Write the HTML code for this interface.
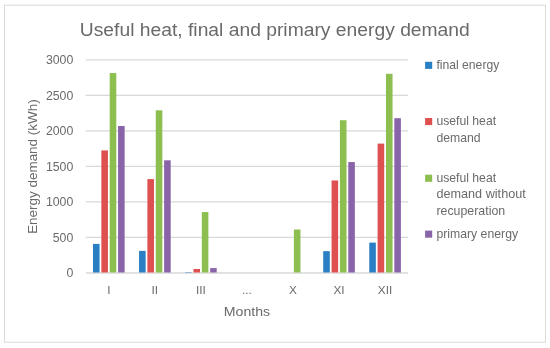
<!DOCTYPE html><html><head><meta charset="utf-8"><style>html,body{margin:0;padding:0;background:#fff;width:550px;height:348px;overflow:hidden}svg{display:block}text{font-family:"Liberation Sans", Arial, sans-serif;fill:#6a6a6a}</style></head><body>
<svg width="550" height="348" viewBox="0 0 550 348">
<rect x="0" y="0" width="550" height="348" fill="#fff"/>
<rect x="4.5" y="5.2" width="541" height="337" fill="#fff" stroke="#d9d9d9" stroke-width="1"/>
<line x1="85.80" y1="59.86" x2="408.10" y2="59.86" stroke="#d9d9d9" stroke-width="1.3"/>
<line x1="85.80" y1="95.37" x2="408.10" y2="95.37" stroke="#d9d9d9" stroke-width="1.3"/>
<line x1="85.80" y1="130.87" x2="408.10" y2="130.87" stroke="#d9d9d9" stroke-width="1.3"/>
<line x1="85.80" y1="166.38" x2="408.10" y2="166.38" stroke="#d9d9d9" stroke-width="1.3"/>
<line x1="85.80" y1="201.89" x2="408.10" y2="201.89" stroke="#d9d9d9" stroke-width="1.3"/>
<line x1="85.80" y1="237.39" x2="408.10" y2="237.39" stroke="#d9d9d9" stroke-width="1.3"/>
<line x1="85.80" y1="273.00" x2="408.10" y2="273.00" stroke="#d9d9d9" stroke-width="1.3"/>
<rect x="93.00" y="243.90" width="6.58" height="28.60" fill="#2a7fc4"/>
<rect x="101.36" y="150.40" width="6.58" height="122.10" fill="#df5050"/>
<rect x="109.71" y="73.05" width="6.58" height="199.45" fill="#8cbf50"/>
<rect x="118.06" y="126.00" width="6.58" height="146.50" fill="#8a64a8"/>
<rect x="139.05" y="250.90" width="6.58" height="21.60" fill="#2a7fc4"/>
<rect x="147.40" y="179.10" width="6.58" height="93.40" fill="#df5050"/>
<rect x="155.75" y="110.30" width="6.58" height="162.20" fill="#8cbf50"/>
<rect x="164.11" y="160.30" width="6.58" height="112.20" fill="#8a64a8"/>
<rect x="185.09" y="272.10" width="6.58" height="0.40" fill="#2a7fc4"/>
<rect x="193.44" y="269.00" width="6.58" height="3.50" fill="#df5050"/>
<rect x="201.80" y="212.07" width="6.58" height="60.43" fill="#8cbf50"/>
<rect x="210.15" y="268.10" width="6.58" height="4.40" fill="#8a64a8"/>
<rect x="293.88" y="229.50" width="6.58" height="43.00" fill="#8cbf50"/>
<rect x="323.22" y="251.15" width="6.58" height="21.35" fill="#2a7fc4"/>
<rect x="331.57" y="180.46" width="6.58" height="92.04" fill="#df5050"/>
<rect x="339.92" y="120.20" width="6.58" height="152.30" fill="#8cbf50"/>
<rect x="348.28" y="162.07" width="6.58" height="110.43" fill="#8a64a8"/>
<rect x="369.26" y="242.60" width="6.58" height="29.90" fill="#2a7fc4"/>
<rect x="377.61" y="143.60" width="6.58" height="128.90" fill="#df5050"/>
<rect x="385.97" y="73.80" width="6.58" height="198.70" fill="#8cbf50"/>
<rect x="394.32" y="118.20" width="6.58" height="154.30" fill="#8a64a8"/>
<text x="73.3" y="277.20" font-size="12.3" text-anchor="end">0</text>
<text x="73.3" y="241.69" font-size="12.3" text-anchor="end">500</text>
<text x="73.3" y="206.19" font-size="12.3" text-anchor="end">1000</text>
<text x="73.3" y="170.68" font-size="12.3" text-anchor="end">1500</text>
<text x="73.3" y="135.17" font-size="12.3" text-anchor="end">2000</text>
<text x="73.3" y="99.67" font-size="12.3" text-anchor="end">2500</text>
<text x="73.3" y="64.16" font-size="12.3" text-anchor="end">3000</text>
<text x="108.82" y="294.4" font-size="11.8" text-anchor="middle">I</text>
<text x="154.86" y="294.4" font-size="11.8" text-anchor="middle">II</text>
<text x="200.91" y="294.4" font-size="11.8" text-anchor="middle">III</text>
<text x="246.95" y="294.4" font-size="11.8" text-anchor="middle">...</text>
<text x="292.99" y="294.4" font-size="11.8" text-anchor="middle">X</text>
<text x="339.04" y="294.4" font-size="11.8" text-anchor="middle">XI</text>
<text x="385.08" y="294.4" font-size="11.8" text-anchor="middle">XII</text>
<text x="79.8" y="36.1" font-size="18.75" textLength="390.0" lengthAdjust="spacingAndGlyphs">Useful heat, final and primary energy demand</text>
<text x="246.95" y="316.3" font-size="13.5" text-anchor="middle" textLength="46.3" lengthAdjust="spacingAndGlyphs">Months</text>
<text transform="translate(37.3,166.6) rotate(-90)" x="0" y="0" font-size="13.5" text-anchor="middle" textLength="134.5" lengthAdjust="spacingAndGlyphs">Energy demand (kWh)</text>
<rect x="425.1" y="61.80" width="7.1" height="7.1" fill="#2a7fc4"/>
<text x="436.4" y="68.90" font-size="11.9" textLength="62.9" lengthAdjust="spacingAndGlyphs">final energy</text>
<rect x="425.1" y="118.00" width="7.1" height="7.1" fill="#df5050"/>
<text x="436.4" y="125.10" font-size="11.9" textLength="59.7" lengthAdjust="spacingAndGlyphs">useful heat</text>
<text x="436.4" y="141.55" font-size="11.9" textLength="44.2" lengthAdjust="spacingAndGlyphs">demand</text>
<rect x="425.1" y="174.70" width="7.1" height="7.1" fill="#8cbf50"/>
<text x="436.4" y="181.80" font-size="11.9" textLength="59.7" lengthAdjust="spacingAndGlyphs">useful heat</text>
<text x="436.4" y="198.25" font-size="11.9" textLength="89.4" lengthAdjust="spacingAndGlyphs">demand without</text>
<text x="436.4" y="214.70" font-size="11.9" textLength="68.8" lengthAdjust="spacingAndGlyphs">recuperation</text>
<rect x="425.1" y="230.60" width="7.1" height="7.1" fill="#8a64a8"/>
<text x="436.4" y="237.70" font-size="11.9" textLength="81.7" lengthAdjust="spacingAndGlyphs">primary energy</text>
</svg></body></html>
